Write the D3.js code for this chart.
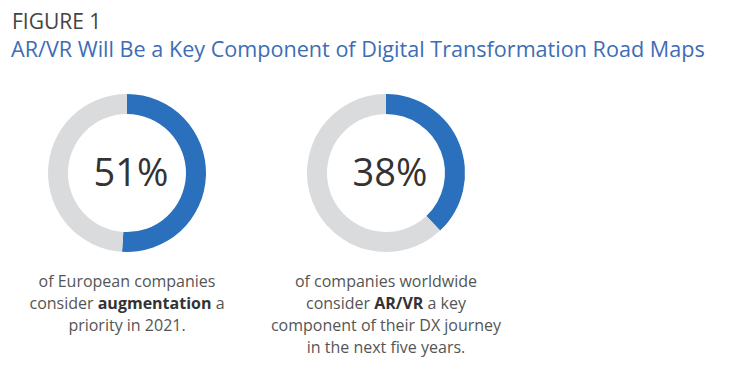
<!DOCTYPE html>
<html><head><meta charset="utf-8">
<script src="https://cdn.jsdelivr.net/npm/d3@7"></script>
<style>body{margin:0;background:#fff;} svg{display:block;}</style>
</head><body>
<svg id="chart" width="741" height="375"></svg>
<script>
const figureLabel = "FIGURE 1";
const title = "AR/VR Will Be a Key Component of Digital Transformation Road Maps";
const categories = ["European companies: augmentation priority 2021", "Companies worldwide: AR/VR key to DX"];
const values = [51, 38];
const captions = [
  [["of European companies"], ["consider ", ["augmentation"], " a"], ["priority in 2021."]],
  [["of companies worldwide"], ["consider ", ["AR/VR"], " a key"], ["component of their DX journey"], ["in the next five years."]]
];

const svg = d3.select("#chart");
const font = "'Open Sans', sans-serif";

svg.append("text").attr("x", 12).attr("y", 29).attr("font-family", font)
  .attr("font-size", 21).attr("fill", "#444").text(figureLabel);
svg.append("text").attr("x", 11).attr("y", 57).attr("font-family", font)
  .attr("font-size", 21.6).attr("fill", "#3d6db5").text(title);

const x = d3.scalePoint().domain(categories).range([127, 386]);
const cy = 173, outerR = 79, innerR = 59;
const pie = d3.pie().sort(null);
const arc = d3.arc().innerRadius(innerR).outerRadius(outerR);
const colors = ["#2a70bd", "#dadbdc"];

categories.forEach((c, i) => {
  const g = svg.append("g").attr("transform", `translate(${x(c)},${cy})`);
  g.selectAll("path").data(pie([values[i], 100 - values[i]])).join("path")
    .attr("d", arc).attr("fill", (d, j) => colors[j]);
  g.append("text").attr("x", 4).attr("y", 13).attr("text-anchor", "middle")
    .attr("font-family", font).attr("font-size", 38).attr("fill", "#333")
    .text(values[i] + "%");
  captions[i].forEach((line, li) => {
    const t = svg.append("text").attr("text-anchor", "middle")
      .attr("x", x(c)).attr("y", 287 + li * 21.9)
      .attr("font-family", font).attr("font-size", 16).attr("fill", "#555");
    line.forEach(part => {
      if (Array.isArray(part)) t.append("tspan").attr("font-weight", "bold").attr("fill", "#333").text(part[0]);
      else t.append("tspan").text(part);
    });
  });
});
</script>
</body></html>
